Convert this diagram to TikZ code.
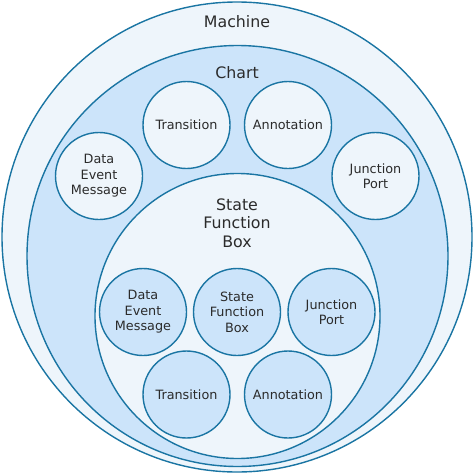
\documentclass[tikz,border=0pt]{standalone}
\usepackage{fontspec}
\setmainfont{DejaVu Sans}
\definecolor{strokeC}{HTML}{1A75A3}
\definecolor{paleC}{HTML}{EEF5FB}
\definecolor{lightC}{HTML}{CCE4FA}
\definecolor{textC}{HTML}{2B2B2B}
\begin{document}
\begin{tikzpicture}[x=1pt,y=-1pt,
  ring/.style={circle,draw=strokeC,line width=1.4pt,inner sep=0pt},
  small/.style={ring,minimum size=87pt,align=center,text=textC,font=\fontsize{12.8}{15.5}\selectfont},
  pale/.style={fill=paleC},
  light/.style={fill=lightC},
  big/.style={text=textC,align=center,font=\fontsize{15.8}{18.5}\selectfont}]
\useasboundingbox (0,0) rectangle (474,474);
\node[ring,pale,minimum size=470pt] (machine) at (237,237) {};
\node[ring,light,minimum size=421pt] (chart) at (237.5,256) {};
\node[ring,pale,minimum size=285pt] (sfb) at (237.5,316) {};
\node[big] (machinelbl) at (237,22) {Machine};
\node[big] (chartlbl) at (237,73) {Chart};
\node[big] (sfblbl) at (237,223) {State\\Function\\Box};
% chart children
\node[small,pale] (ctrans) at (186.5,125) {Transition};
\node[small,pale] (cannot) at (288,125) {Annotation};
\node[small,pale] (cdata) at (99,176) {Data\\Event\\Message};
\node[small,pale] (cjunc) at (375.5,176) {Junction\\Port};
% state children
\node[small,light] (sdata) at (143,312) {Data\\Event\\Message};
\node[small,light] (ssfb) at (237,312) {State\\Function\\Box};
\node[small,light] (sjunc) at (331.5,312) {Junction\\Port};
\node[small,light] (strans) at (186.5,394.5) {Transition};
\node[small,light] (sannot) at (288,394.5) {Annotation};
\end{tikzpicture}
\end{document}
